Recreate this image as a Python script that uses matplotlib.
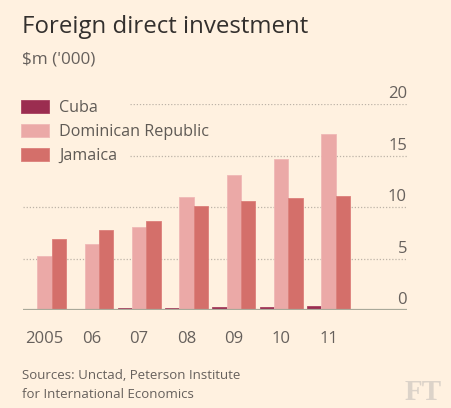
import matplotlib
matplotlib.use("Agg")
import matplotlib.pyplot as plt
from matplotlib.patches import Patch
import numpy as np

plt.rcParams['font.family'] = ['Open Sans', 'DejaVu Sans']

years = ["2005", "06", "07", "08", "09", "10", "11"]
cuba = [0.03, 0.07, 0.19, 0.19, 0.26, 0.32, 0.42]
dominican = [5.24, 6.38, 8.06, 10.94, 13.07, 14.69, 17.09]
jamaica = [6.89, 7.77, 8.64, 10.06, 10.61, 10.84, 11.07]
series_names = ["Cuba", "Dominican Republic", "Jamaica"]
yticks = [0, 5, 10, 15, 20]

BG = "#fff1e0"
colors = ["#9b2d50", "#eba9a7", "#d46f6a"]
edges = ["#a8405f", "#f0b8b6", "#dc807b"]

W, H = 451, 408
fig = plt.figure(figsize=(W / 100, H / 100), dpi=100, facecolor=BG)
ax = fig.add_axes([23 / W, (H - 310) / H, (407 - 23) / W, (310 - 104) / H])
ax.set_facecolor(BG)

x = np.arange(len(years))
w = 0.302
for k, (vals, name) in enumerate(zip([cuba, dominican, jamaica], series_names)):
    ax.bar(x + (k - 1) * w, vals, width=w, color=colors[k], edgecolor=edges[k],
           linewidth=0.6, label=name, zorder=3)

xl = (-1.5 * w, 7.66)
ax.set_xlim(*xl)
ax.set_ylim(0, 20)

# gridlines
for t in yticks[1:]:
    start = xl[0] + (xl[1] - xl[0]) * (0.279 if t >= 15 else 0.0)
    ax.hlines(t, start, xl[1], colors="#bdb3a8", linestyles=(0, (1, 1.5)),
              linewidth=0.9, zorder=1)
ax.axhline(0, color="#a9a99a", linewidth=1.6, zorder=4)

# y tick labels (right, above gridlines)
for t in yticks:
    ax.annotate(str(t), xy=(xl[1], t), xytext=(0, 4), textcoords="offset points",
                ha="right", va="baseline", fontsize=12, color="#66605c")

ax.set_yticks([])
ax.set_xticks(x)
ax.set_xticklabels(years, fontsize=12, color="#66605c")
ax.tick_params(axis="x", length=0, pad=15)
for s in ax.spines.values():
    s.set_visible(False)

handles = [Patch(facecolor=colors[k], edgecolor=edges[k], linewidth=0.6) for k in range(3)]
leg = fig.legend(handles, series_names, loc="upper left",
                 bbox_to_anchor=(21 / W, 1 - 100 / H), frameon=False,
                 fontsize=11.6, handlelength=1.75, handleheight=0.85,
                 handletextpad=0.6, labelspacing=0.5, borderaxespad=0, borderpad=0)
for t in leg.get_texts():
    t.set_color("#5f5a55")

fig.text(22 / W, 1 - 33 / H, "Foreign direct investment", fontsize=17.3,
         color="#33302e", ha="left", va="baseline")
fig.text(22 / W, 1 - 63 / H, "$m ('000)", fontsize=12.3, color="#66605c",
         ha="left", va="baseline")
fig.text(22 / W, 1 - 379 / H, "Sources: Unctad, Peterson Institute", fontsize=9.5,
         color="#66605c", ha="left", va="baseline")
fig.text(22 / W, 1 - 398 / H, "for International Economics", fontsize=9.5,
         color="#66605c", ha="left", va="baseline")
fig.text(442 / W, 1 - 400 / H, "FT", fontsize=21, color="#dcd3c9", ha="right",
         va="baseline", family=["Liberation Serif", "DejaVu Serif"], weight="bold")

fig.savefig("out.png", dpi=100, facecolor=BG)
